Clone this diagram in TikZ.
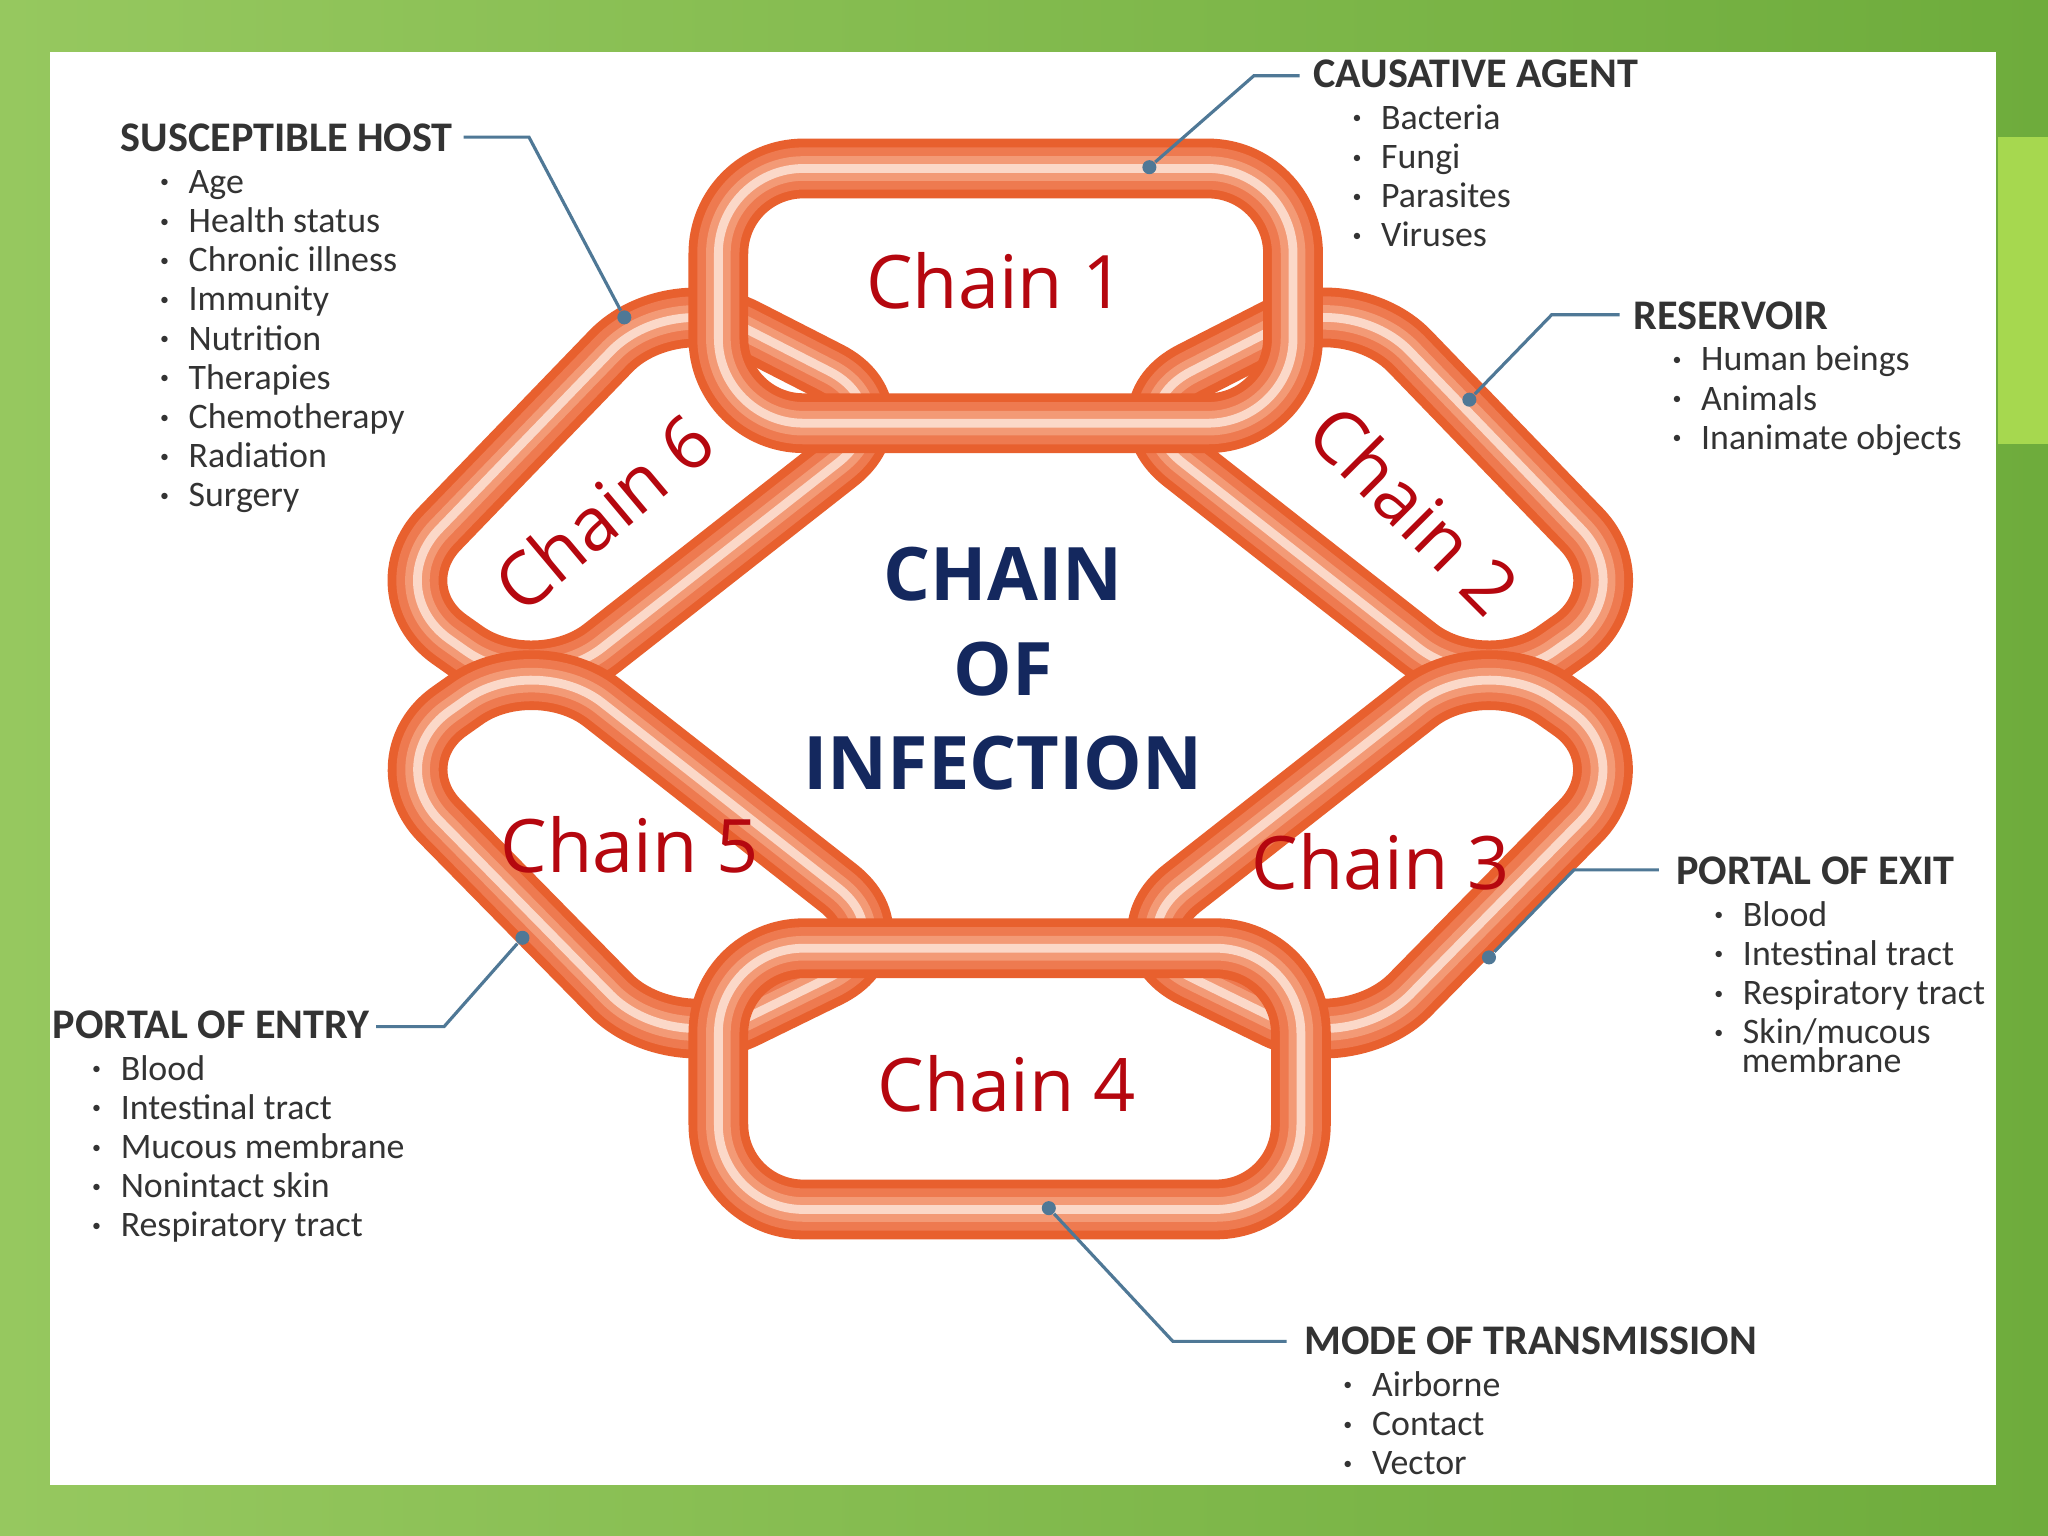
\documentclass[tikz,border=0pt]{standalone}
\usepackage{fontspec}
\setmainfont{Carlito}
\newfontfamily\chf{Open Sans}
\definecolor{lkA}{HTML}{E8602E}
\definecolor{lkM}{HTML}{EE7A50}
\definecolor{lkB}{HTML}{F39A76}
\definecolor{lkC}{HTML}{FBD8C8}
\definecolor{chred}{HTML}{B5070F}
\definecolor{navy}{HTML}{14285E}
\definecolor{lead}{HTML}{4F7896}
\definecolor{txt}{HTML}{333333}
\definecolor{gL}{HTML}{96C85F}
\definecolor{gR}{HTML}{6EAC3C}
\definecolor{gA}{HTML}{A6D84F}
\newcommand\smb{\raisebox{0.15em}{\scalebox{0.5}{•}}\hspace{0.55em}}
\tikzset{
 lk1/.style={draw=lkA,line width=17pt,rounded corners=0.85cm},
 lk4/.style={draw=lkM,line width=12pt,rounded corners=0.85cm},
 lk2/.style={draw=lkB,line width=7pt,rounded corners=0.85cm},
 lk3/.style={draw=lkC,line width=2.5pt,rounded corners=0.85cm},
 chlab/.style={text=chred,font=\chf\fontsize{21}{23}\selectfont},
 head/.style={anchor=base west,inner sep=0,text=txt,font=\bfseries\fontsize{12}{13}\selectfont},
 item/.style={anchor=base west,inner sep=0,text=txt,font=\fontsize{10.2}{12}\selectfont},
 leader/.style={draw=lead,line width=0.9pt},
 ldot/.style={circle,fill=lead,inner sep=0,minimum size=4pt}
}
\newcommand\chainlink[1]{\draw[lk1] #1; \draw[lk4] #1; \draw[lk2] #1; \draw[lk3] #1;}
\begin{document}
\begin{tikzpicture}[x=0.013061cm,y=-0.013061cm]
\useasboundingbox (0,0) rectangle (1568,1176);
\shade[left color=gL,right color=gR] (0,0) rectangle (1568,1176);
\fill[white] (38,40) rectangle (1528,1137);
\fill[gA] (1530,105) rectangle (1568,340);
% links
\chainlink{(513,222) -- (291,452) -- (410,536) -- (693,314) -- cycle}
\chainlink{(1034,222) -- (1256,452) -- (1137,536) -- (854,314) -- cycle}
\chainlink{(513,808) -- (291,582) -- (410,498) -- (693,720) -- cycle}
\chainlink{(1034,808) -- (1256,582) -- (1137,498) -- (854,720) -- cycle}
\chainlink{(550,129) rectangle (990,324)}
\chainlink{(550,726) rectangle (996,926)}
% chain labels
\node[chlab] (c1) at (762,215) {Chain 1};
\node[chlab,rotate=-45,inner sep=0] (c2) at (1083,390) {Chain 2};
\node[chlab] (c3) at (1057,660) {Chain 3};
\node[chlab] (c4) at (771,830) {Chain 4};
\node[chlab] (c5) at (482,647) {Chain 5};
\node[chlab,rotate=40,inner sep=0] (c6) at (462,392) {Chain 6};
\node[text=navy,font=\chf\bfseries\fontsize{21}{27}\selectfont,align=center] (ttl) at (768,512) {CHAIN\\OF\\INFECTION};
% causative agent
\node[head] (h1) at (1005,67) {CAUSATIVE AGENT};
\foreach \t [count=\i] in {Bacteria,Fungi,Parasites,Viruses}
 \node[item] at (1035,69+30*\i) {\smb\t};
\node[ldot] (d1) at (880,128) {};
\coordinate (k1) at (960,58);
\coordinate (e1) at (995,58);
\draw[leader] (e1) -- (k1) -- (d1);
% susceptible host
\node[head] (h2) at (92,116) {SUSCEPTIBLE HOST};
\foreach \t [count=\i] in {Age,Health status,Chronic illness,Immunity,Nutrition,Therapies,Chemotherapy,Radiation,Surgery}
 \node[item] at (122,118+30*\i) {\smb\t};
\node[ldot] (d2) at (478,243) {};
\coordinate (k2) at (405,105);
\coordinate (e2) at (355,105);
\draw[leader] (e2) -- (k2) -- (d2);
% reservoir
\node[head] (h3) at (1250,252) {RESERVOIR};
\foreach \t [count=\i] in {Human beings,Animals,Inanimate objects}
 \node[item] at (1280,254+30*\i) {\smb\t};
\node[ldot] (d3) at (1125,306) {};
\coordinate (k3) at (1188,241);
\coordinate (e3) at (1240,241);
\draw[leader] (e3) -- (k3) -- (d3);
% portal of exit
\node[head] (h4) at (1283,677) {PORTAL OF EXIT};
\foreach \t [count=\i] in {Blood,Intestinal tract,Respiratory tract,Skin/mucous}
 \node[item] at (1312,679+30*\i) {\smb\t};
\node[item] (m4) at (1333,821) {membrane};
\node[ldot] (d4) at (1140,733) {};
\coordinate (k4) at (1205,666);
\coordinate (e4) at (1270,666);
\draw[leader] (e4) -- (k4) -- (d4);
% portal of entry
\node[head] (h5) at (40,795) {PORTAL OF ENTRY};
\foreach \t [count=\i] in {Blood,Intestinal tract,Mucous membrane,Nonintact skin,Respiratory tract}
 \node[item] at (70,797+30*\i) {\smb\t};
\node[ldot] (d5) at (400,718) {};
\coordinate (k5) at (340,786);
\coordinate (e5) at (288,786);
\draw[leader] (e5) -- (k5) -- (d5);
% mode of transmission
\node[head] (h6) at (998,1037) {MODE OF TRANSMISSION};
\foreach \t [count=\i] in {Airborne,Contact,Vector}
 \node[item] at (1028,1039+30*\i) {\smb\t};
\node[ldot] (d6) at (803,925) {};
\coordinate (k6) at (898,1027);
\coordinate (e6) at (985,1027);
\draw[leader] (e6) -- (k6) -- (d6);
\end{tikzpicture}
\end{document}
